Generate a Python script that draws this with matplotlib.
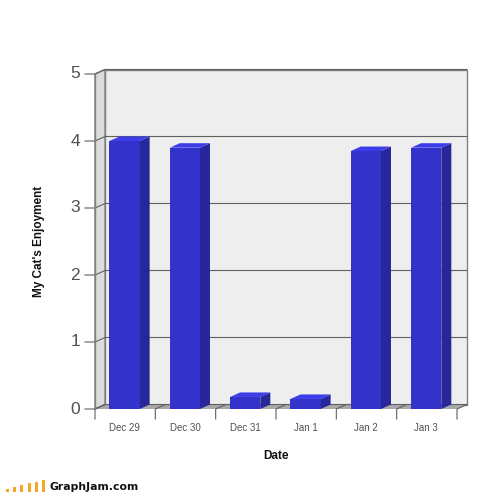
import matplotlib
matplotlib.use('Agg')
from matplotlib import pyplot as plt
from matplotlib.patches import Polygon, Rectangle

plt.rcParams['font.family'] = ['Liberation Sans', 'DejaVu Sans']

# Values
dates = ['Dec 29', 'Dec 30', 'Dec 31', 'Jan 1', 'Jan 2', 'Jan 3']
enjoyment = [4.0, 3.9, 0.18, 0.15, 3.85, 3.9]
y_ticks = [0, 1, 2, 3, 4, 5]
logo_heights = [3, 5, 7, 9, 10, 12]

# Fake 3D depth, in data units
depth_x = 10 / 60.3
depth_y = 4.5 / 67.0

fig = plt.figure(figsize=(5.0, 4.93), dpi=100)
W, H = 500.0, 493.0
ax = fig.add_axes([95 / W, 1 - 409 / H, 362 / W, 335 / H])
ax.set_xlim(0, len(dates))
ax.set_ylim(0, 5)
ax.axis('off')

n = len(dates)
line_col = '#808080'

def poly(points, color, z, edge='none', lw=0):
    ax.add_patch(Polygon(points, closed=True, facecolor=color, edgecolor=edge,
                         linewidth=lw, zorder=z, clip_on=False))

# Back wall, left wall and floor
poly([(depth_x, depth_y), (n + depth_x, depth_y), (n + depth_x, 5 + depth_y), (depth_x, 5 + depth_y)],
     '#eeeeee', 1, line_col, 1.0)
poly([(0, 0), (depth_x, depth_y), (depth_x, 5 + depth_y), (0, 5)], '#dcdcdc', 1, line_col, 1.0)
poly([(0, 0), (n, 0), (n + depth_x, depth_y), (depth_x, depth_y)], '#a8a8a8', 1)

# Gridlines on the walls and the ticks to the left
for v in y_ticks:
    ax.plot([-10 / 60.3, 0, depth_x, n + depth_x], [v, v, v + depth_y, v + depth_y],
            color='#606060', lw=0.8, zorder=2, clip_on=False, solid_joinstyle='miter')
    ax.text(-15 / 60.3, v, str(v), ha='right', va='center', fontsize=12.5,
            color='#505050')

# Ticks below the floor
for i in range(n + 1):
    ax.plot([i, i, i + depth_x], [-10 / 67.0, 0, depth_y], color='#606060', lw=0.8,
            zorder=2, clip_on=False)

ax.plot([0, 0], [0, 5], color=line_col, lw=1.0, zorder=2, clip_on=False)

# Bars
bar_left = 0.24
bar_w = 0.5
for i, v in enumerate(enjoyment):
    x0 = i + bar_left
    x1 = x0 + bar_w
    ax.bar(x0, v, width=bar_w, align='edge', color='#3333cc', zorder=5, clip_on=False)
    poly([(x1, 0), (x1 + depth_x, depth_y), (x1 + depth_x, v + depth_y), (x1, v)], '#27279b', 4)
    poly([(x0, v), (x1, v), (x1 + depth_x, v + depth_y), (x0 + depth_x, v + depth_y)], '#3c3ce8', 4)
    ax.text(i + 0.49, -19 / 67.0, dates[i], ha='center', va='center', fontsize=7,
            color='#505050')

ax.text(3.0, -47 / 67.0, 'Date', ha='center', va='center', fontsize=8.5, fontweight='bold',
        color='#111111')
ax.text(-56 / 60.3, 2.5, "My Cat's Enjoyment", ha='center', va='center', rotation=90,
        fontsize=8.5, fontweight='bold', color='#111111')

# GraphJam logo along the bottom
logo = fig.add_axes([0, 0, 1, 1])
logo.set_xlim(0, W)
logo.set_ylim(H, 0)
logo.axis('off')
logo.patch.set_alpha(0)
for i, h in enumerate(logo_heights):
    logo.add_patch(Rectangle((round(6 + i * 7.2), 492 - h), 3, h, facecolor='#f5a623',
                             edgecolor='none', snap=True))
logo.text(49, 487, 'GraphJam.com', ha='left', va='center', fontsize=7.8, fontweight='bold',
          family='DejaVu Sans', color='#111111')

fig.savefig('out.png', dpi=100)
